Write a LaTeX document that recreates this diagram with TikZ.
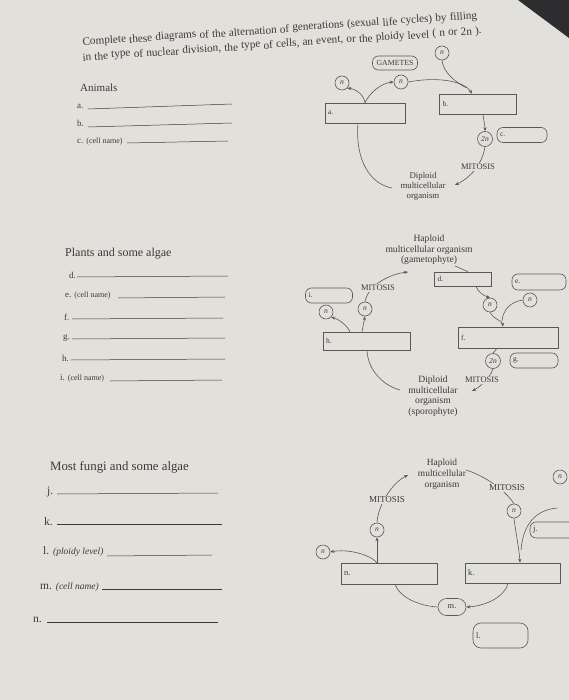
\documentclass[tikz,border=0pt]{standalone}
\usepackage{fontspec}
\setmainfont{Liberation Serif}
\usetikzlibrary{arrows.meta}
\definecolor{paper}{RGB}{226,224,219}
\definecolor{ink}{RGB}{58,58,58}
\definecolor{lineink}{RGB}{88,88,88}
\definecolor{shadow}{RGB}{45,45,48}
\begin{document}
\begin{tikzpicture}[x=1pt,y=-1pt,
  every node/.style={text=ink, inner sep=0pt},
  tt/.style={anchor=west, rotate=3.8, inner xsep=1.4pt, inner ysep=0pt, font=\fontsize{11.2}{12}\selectfont},
  ans/.style={draw=ink, line width=0.5pt},
  head/.style={anchor=west, font=\fontsize{11}{12}\selectfont},
  item/.style={anchor=west, font=\fontsize{9}{10}\selectfont},
  fitem/.style={anchor=west, font=\fontsize{11.5}{12}\selectfont},
  box/.style={draw=lineink, line width=0.6pt, rectangle, inner sep=3pt, align=left, font=\fontsize{7.5}{8}\selectfont},
  rbox/.style={box, rounded corners=6pt},
  cell/.style={draw=lineink, line width=0.6pt, circle, minimum size=14pt, inner sep=0pt, font=\fontsize{7.6}{8}\itshape\selectfont},
  lab/.style={align=center, font=\fontsize{8.8}{10}\selectfont},
  labb/.style={align=center, font=\fontsize{9.6}{10.5}\selectfont},
  labc/.style={align=center, font=\fontsize{9.4}{11}\selectfont},
  mit/.style={fill=paper, inner sep=1pt, font=\fontsize{8.5}{9}\selectfont},
  conn/.style={draw=lineink, line width=0.6pt},
  arr/.style={conn, -{Stealth[length=4pt,width=3.2pt]}},
]
\useasboundingbox (0,0) rectangle (569,700);
\fill[paper] (0,0) rectangle (569,700);
\clip (0,0) rectangle (569,700);
\fill[shadow] (518,0) -- (569,0) -- (569,38) -- cycle;

% title (set word by word along the tilted line)
\node[tt] (ta-0) at (81,42.5) {Complete};
\foreach \w [count=\i, remember=\i as \j (initially 0)] in {these,diagrams,of,the,alternation,of,generations,{(sexual},life,{cycles)},by,filling}
  {\node[tt] (ta-\i) at (ta-\j.east) {\w};}
\node[tt] (tb-0) at (81,57.5) {in};
\foreach \w [count=\i, remember=\i as \j (initially 0)] in {the,type,of,nuclear,{division,},the,type,of,{cells,},an,{event,},or,the,ploidy,level,{(},n,or,2n,{).}}
  {\node[tt] (tb-\i) at (tb-\j.east) {\w};}

% ---------- Animals list
\node[head] (hA) at (80,88) {Animals};
\node[item] (la) at (77,106) {a.};
\draw[ans] (88,109) -- (232,104);
\node[item] (lb) at (77,123) {b.};
\draw[ans] (88,127) -- (232,123);
\node[item] (lc) at (77,142) {c. {\fontsize{8}{9}\selectfont (cell name)}};
\draw[ans] (127,143) -- (228,141);

% ---------- Animals diagram
\node[draw=lineink, line width=0.6pt, rounded corners=6pt, minimum width=45pt, minimum height=14pt, font=\fontsize{7.8}{8}\selectfont] (gam) at (395,63) {GAMETES};
\node[cell] (n1t) at (442,53) {n};
\node[cell] (n1l) at (342,83) {n};
\node[cell] (n1m) at (401,82) {n};
\node[box, minimum height=20pt, text width=74pt] (ba) at (365,113) {a.};
\node[box, minimum height=20pt, text width=71pt] (bb) at (478,104) {b.};
\node[cell, minimum size=15pt] (c1) at (485,139) {2n};
\node[rbox, minimum height=15pt, text width=44pt] (bc) at (522,135) {c.};
\node[lab] (d1) at (423,186) {Diploid\\multicellular\\organism};

\draw[arr] (ba.north) .. controls (364,95) and (356,89) .. (n1l.south east);
\draw[arr] (ba.north) .. controls (370,92) and (382,83) .. (n1m.west);
\draw[arr] (n1m.east) .. controls (440,76) and (465,82) .. ([xshift=-6pt]bb.north);
\draw[conn] (n1t.south) .. controls (443,72) and (455,82) .. (466,87.6);
\draw[arr] ([xshift=5pt]bb.south) .. controls (484,122) and (485,126) .. (c1.north);
\draw[arr] (c1.south) .. controls (482,165) and (470,178) .. (455,185);
\draw[conn] ([xshift=-7pt]ba.south) .. controls (355,160) and (370,184) .. (392,188);
\node[mit] (m1) at (478,167) {MITOSIS};

% ---------- Plants list
\node[head, font=\fontsize{12}{13}\selectfont] (hP) at (65,254) {Plants and some algae};
\node[item] (ld) at (69,275) {d.};
\draw[ans] (77,277) -- (228,276);
\node[item] (le) at (65,296) {e. {\fontsize{8}{9}\selectfont (cell name)}};
\draw[ans] (118,298) -- (225,297);
\node[item] (lf) at (64,317) {f.};
\draw[ans] (72,319) -- (223,318);
\node[item] (lg) at (63,338) {g.};
\draw[ans] (72,339) -- (225,338);
\node[item] (lh) at (62,358) {h.};
\draw[ans] (71,360) -- (225,359);
\node[item] (li) at (60,378) {i. {\fontsize{8}{9}\selectfont (cell name)}};
\draw[ans] (110,381) -- (222,380);

% ---------- Plants diagram
\node[labb] (h2) at (429,250) {Haploid\\multicellular organism\\(gametophyte)};
\node[box, minimum height=14pt, text width=51pt] (bd) at (463,279) {d.};
\node[rbox, minimum height=16pt, text width=48pt] (be) at (539,282) {e.};
\node[cell] (n2d) at (490,305) {n};
\node[cell] (n2e) at (530,300) {n};
\node[box, minimum height=21pt, text width=94pt] (bf) at (508,337.5) {f.};
\node[cell, minimum size=15pt] (c2) at (493,361) {2n};
\node[rbox, minimum height=15pt, text width=42pt] (bg) at (534,360.5) {g.};
\node[labb] (d2) at (433,396) {Diploid\\multicellular\\organism\\(sporophyte)};
\node[box, minimum height=18pt, text width=81pt] (bh) at (366.5,341) {h.};
\node[rbox, minimum height=15pt, text width=41pt] (bi) at (329,295.5) {i.};
\node[cell] (n2l) at (326,312) {n};
\node[cell] (n2m) at (365,309) {n};
\coordinate (h2in) at (408,272);
\coordinate (h2out) at (455,266);

\draw[arr] ([xshift=-16.5pt]bh.north) .. controls (346,324) and (338,319) .. (n2l.south east);
\draw[arr] ([xshift=-4.5pt]bh.north) -- (n2m.south);
\draw[arr] (n2m.north) .. controls (368,285) and (390,274) .. (h2in);
\draw[conn] (h2out) -- ([xshift=5pt]bd.north);
\draw[arr] ([xshift=13pt]bd.south) .. controls (478,293) and (485,296) .. (n2d.north);
\draw[arr] (n2d.south) .. controls (494,320) and (502,320) .. ([xshift=-5pt]bf.north);
\draw[conn] (n2e.west) .. controls (510,302) and (503,310) .. (502,321);
\draw[conn] ([xshift=-11pt]bf.south) -- (c2.north);
\draw[arr] (c2.south) .. controls (490,378) and (480,387) .. (472,391);
\draw[conn] ([xshift=0.5pt]bh.south) .. controls (368,372) and (385,386) .. (400,390);
\node[mit] (m2) at (482,380) {MITOSIS};
\node[mit] (m2b) at (378,288) {MITOSIS};

% ---------- Fungi list
\node[head, font=\fontsize{12.8}{14}\selectfont] (hF) at (50,467) {Most fungi and some algae};
\node[fitem] (lj) at (47,492) {j.};
\draw[ans] (57,494) -- (218,493);
\node[fitem] (lk) at (44,522) {k.};
\draw[ans] (57,524) -- (222,524);
\node[fitem] (ll) at (43,552) {l. {\fontsize{9.5}{10}\itshape\selectfont (ploidy level)}};
\draw[ans] (107,556) -- (212,555);
\node[fitem] (lm) at (40,587) {m. {\fontsize{9.5}{10}\itshape\selectfont (cell name)}};
\draw[ans] (102,589) -- (222,589);
\node[fitem] (ln) at (33,620) {n.};
\draw[ans] (47,622) -- (218,622);

% ---------- Fungi diagram
\node[labc] (h3) at (442,474) {Haploid\\multicellular\\organism};
\node[cell] (n3r) at (560,477) {n};
\node[cell] (n3a) at (514,511) {n};
\node[rbox, minimum height=16pt, text width=44pt, font=\fontsize{8.5}{9}\selectfont] (bj) at (555,530) {j.};
\node[box, minimum height=20pt, text width=89pt, font=\fontsize{8.5}{9}\selectfont] (bk) at (512.5,573) {k.};
\node[box, minimum height=21pt, text width=90pt, font=\fontsize{8.5}{9}\selectfont] (bn) at (389,573.5) {n.};
\node[cell] (n3b) at (377,530) {n};
\node[cell] (n3l) at (323,552) {n};
\node[draw=lineink, line width=0.6pt, rounded corners=8.5pt, minimum width=28pt, minimum height=17pt, font=\fontsize{8.5}{9}\selectfont] (mm) at (452,607) {m.};
\node[rbox, rounded corners=8pt, minimum height=25pt, text width=49pt, font=\fontsize{8.5}{9}\selectfont] (bl) at (500.5,635.5) {l.};
\coordinate (h3in) at (408,475);
\coordinate (h3out) at (466,470);
\coordinate (jin) at (557,508);

\draw[conn] (h3out) .. controls (485,476) and (505,490) .. (n3a.north);
\draw[arr] (n3a.south) .. controls (516,535) and (519,548) .. ([xshift=7.5pt]bk.north);
\draw[conn] (jin) .. controls (535,510) and (523,525) .. (521,550);
\draw[arr] ([xshift=-4.5pt]bk.south) .. controls (505,597) and (485,606) .. (mm.east);
\draw[conn] ([xshift=6pt]bn.south) .. controls (400,598) and (420,606) .. (mm.west);
\draw[arr] ([xshift=-12pt]bn.north) -- (n3b.south);
\draw[arr] ([xshift=-12pt]bn.north) .. controls (368,553) and (345,549) .. (n3l.east);
\draw[arr] (n3b.north) .. controls (378,505) and (392,483) .. (h3in);
\node[mit, font=\fontsize{9}{10}\selectfont] (m3r) at (507,488) {MITOSIS};
\node[mit, font=\fontsize{9}{10}\selectfont] (m3l) at (387,500) {MITOSIS};
\end{tikzpicture}
\end{document}
